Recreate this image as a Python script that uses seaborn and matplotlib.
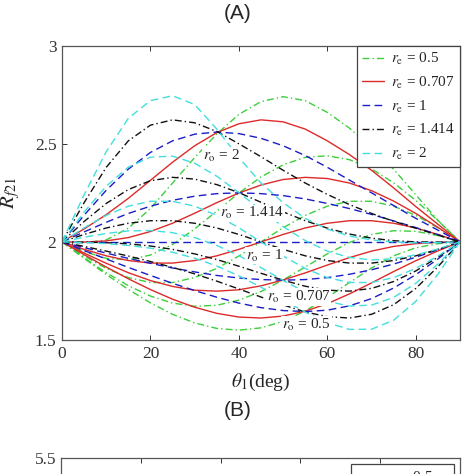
import matplotlib
matplotlib.use("Agg")
import matplotlib.pyplot as plt
from matplotlib.lines import Line2D
import pandas as pd
import seaborn as sns

# ----------------------------
# Data
# ----------------------------

theta = [0, 5, 10, 15, 20, 25, 30, 35, 40, 45, 50, 55, 60, 65, 70, 75, 80, 85, 90]

# r_o = 2
ro2_re05 = [2.00, 1.995, 2.01, 2.07, 2.17, 2.30, 2.43, 2.55, 2.65, 2.715, 2.74, 2.72, 2.66, 2.58, 2.48, 2.37, 2.24, 2.11, 2.00]
ro2_re0707 = [2.00, 2.066, 2.139, 2.222, 2.314, 2.406, 2.49, 2.557, 2.602, 2.622, 2.612, 2.575, 2.515, 2.445, 2.365, 2.275, 2.18, 2.09, 2.00]
ro2_re1 = [2.00, 2.136, 2.263, 2.371, 2.456, 2.515, 2.549, 2.56, 2.552, 2.528, 2.49, 2.44, 2.38, 2.315, 2.25, 2.185, 2.12, 2.06, 2.00]
ro2_re1414 = [2.00, 2.20, 2.38, 2.515, 2.595, 2.622, 2.607, 2.563, 2.50, 2.434, 2.365, 2.30, 2.242, 2.19, 2.145, 2.105, 2.07, 2.035, 2.00]
ro2_re2 = [2.00, 2.24, 2.46, 2.63, 2.72, 2.745, 2.70, 2.575, 2.43, 2.30, 2.20, 2.12, 2.065, 2.03, 2.01, 2.00, 1.995, 1.997, 2.00]

# r_o = 1.414
ro1414_re05 = [2.00, 1.951, 1.916, 1.909, 1.933, 1.987, 2.066, 2.157, 2.249, 2.331, 2.393, 2.431, 2.439, 2.419, 2.372, 2.301, 2.211, 2.109, 2.00]
ro1414_re0707 = [2.00, 1.999, 2.005, 2.022, 2.053, 2.095, 2.146, 2.200, 2.249, 2.290, 2.318, 2.329, 2.323, 2.300, 2.261, 2.208, 2.145, 2.074, 2.00]
ro1414_re1 = [2.00, 2.051, 2.100, 2.145, 2.182, 2.212, 2.233, 2.246, 2.250, 2.246, 2.236, 2.219, 2.196, 2.170, 2.140, 2.107, 2.073, 2.037, 2.00]
ro1414_re1414 = [2.00, 2.104, 2.196, 2.267, 2.312, 2.329, 2.320, 2.292, 2.251, 2.202, 2.153, 2.108, 2.070, 2.040, 2.019, 2.006, 2.000, 1.999, 2.00]
ro1414_re2 = [2.00, 2.152, 2.284, 2.381, 2.432, 2.437, 2.401, 2.335, 2.251, 2.162, 2.078, 2.007, 1.953, 1.921, 1.908, 1.914, 1.934, 1.964, 2.00]

# r_o = 1
ro1_re05 = [2.00, 1.928, 1.865, 1.818, 1.793, 1.793, 1.818, 1.865, 1.928, 2.00, 2.072, 2.135, 2.182, 2.207, 2.207, 2.182, 2.135, 2.072, 2.00]
ro1_re0707 = [2.00, 1.962, 1.929, 1.905, 1.892, 1.892, 1.905, 1.929, 1.962, 2.00, 2.038, 2.071, 2.095, 2.108, 2.108, 2.095, 2.071, 2.038, 2.00]
ro1_re1 = [2.00, 2.00, 2.00, 2.00, 2.00, 2.00, 2.00, 2.00, 2.00, 2.00, 2.00, 2.00, 2.00, 2.00, 2.00, 2.00, 2.00, 2.00, 2.00]
ro1_re1414 = [2.00, 2.038, 2.071, 2.095, 2.108, 2.108, 2.095, 2.071, 2.038, 2.00, 1.962, 1.929, 1.905, 1.892, 1.892, 1.905, 1.929, 1.962, 2.00]
ro1_re2 = [2.00, 2.072, 2.135, 2.182, 2.207, 2.207, 2.182, 2.135, 2.072, 2.00, 1.928, 1.865, 1.818, 1.793, 1.793, 1.818, 1.865, 1.928, 2.00]

# r_o = 0.707
ro0707_re05 = [2.00, 1.919, 1.843, 1.777, 1.724, 1.688, 1.672, 1.677, 1.703, 1.747, 1.806, 1.872, 1.939, 1.997, 2.038, 2.057, 2.054, 2.032, 2.00]
ro0707_re0707 = [2.00, 1.943, 1.891, 1.843, 1.803, 1.773, 1.754, 1.749, 1.756, 1.776, 1.806, 1.842, 1.882, 1.920, 1.953, 1.977, 1.991, 1.998, 2.00]
ro0707_re1 = [2.00, 1.971, 1.943, 1.916, 1.891, 1.867, 1.847, 1.829, 1.816, 1.808, 1.805, 1.808, 1.818, 1.835, 1.858, 1.887, 1.922, 1.960, 2.00]
ro0707_re1414 = [2.00, 1.999, 1.996, 1.990, 1.979, 1.962, 1.939, 1.910, 1.876, 1.840, 1.805, 1.774, 1.754, 1.749, 1.763, 1.798, 1.852, 1.922, 2.00]
ro0707_re2 = [2.00, 2.024, 2.043, 2.056, 2.058, 2.047, 2.022, 1.982, 1.930, 1.869, 1.804, 1.744, 1.697, 1.673, 1.678, 1.717, 1.789, 1.887, 2.00]

# r_o = 0.5
ro05_re05 = [2.00, 1.916, 1.834, 1.758, 1.689, 1.631, 1.587, 1.559, 1.550, 1.562, 1.595, 1.648, 1.717, 1.793, 1.867, 1.929, 1.970, 1.991, 2.00]
ro05_re0707 = [2.00, 1.935, 1.872, 1.812, 1.757, 1.708, 1.667, 1.636, 1.617, 1.612, 1.622, 1.647, 1.685, 1.735, 1.791, 1.849, 1.904, 1.954, 2.00]
ro05_re1 = [2.00, 1.956, 1.913, 1.870, 1.829, 1.789, 1.752, 1.718, 1.688, 1.665, 1.650, 1.645, 1.652, 1.674, 1.711, 1.765, 1.833, 1.913, 2.00]
ro05_re1414 = [2.00, 1.977, 1.953, 1.928, 1.900, 1.870, 1.837, 1.800, 1.760, 1.719, 1.679, 1.643, 1.619, 1.612, 1.631, 1.680, 1.763, 1.873, 2.00]
ro05_re2 = [2.00, 1.997, 1.991, 1.982, 1.968, 1.947, 1.917, 1.877, 1.827, 1.769, 1.705, 1.642, 1.588, 1.554, 1.555, 1.601, 1.697, 1.835, 2.00]

re_levels = ["0.5", "0.707", "1", "1.414", "2"]
ro_labels = ["2", "1.414", "1", "0.707", "0.5"]
ro_label_pos = [(36, 2.44), (43, 2.145), (45.8, 1.93), (53.5, 1.72), (55.3, 1.575)]

# ----------------------------
# Long table for seaborn
# ----------------------------

curves = {
    ("2", "0.5"): ro2_re05, ("2", "0.707"): ro2_re0707, ("2", "1"): ro2_re1,
    ("2", "1.414"): ro2_re1414, ("2", "2"): ro2_re2,
    ("1.414", "0.5"): ro1414_re05, ("1.414", "0.707"): ro1414_re0707, ("1.414", "1"): ro1414_re1,
    ("1.414", "1.414"): ro1414_re1414, ("1.414", "2"): ro1414_re2,
    ("1", "0.5"): ro1_re05, ("1", "0.707"): ro1_re0707, ("1", "1"): ro1_re1,
    ("1", "1.414"): ro1_re1414, ("1", "2"): ro1_re2,
    ("0.707", "0.5"): ro0707_re05, ("0.707", "0.707"): ro0707_re0707, ("0.707", "1"): ro0707_re1,
    ("0.707", "1.414"): ro0707_re1414, ("0.707", "2"): ro0707_re2,
    ("0.5", "0.5"): ro05_re05, ("0.5", "0.707"): ro05_re0707, ("0.5", "1"): ro05_re1,
    ("0.5", "1.414"): ro05_re1414, ("0.5", "2"): ro05_re2,
}

rows = []
for (ro, re), vals in curves.items():
    for t, r in zip(theta, vals):
        rows.append({"theta": t, "R": r, "ro": ro, "re": re})
df = pd.DataFrame(rows)

colors = {"0.5": "#3ccf3c", "0.707": "#dd2a2a", "1": "#1c1cc8", "1.414": "#111111", "2": "#44dede"}
dashes = {"0.5": (5, 2.2, 1, 2.2), "0.707": "", "1": (5.5, 3.2), "1.414": (5, 2.2, 1, 2.2), "2": (5.5, 3.2)}

sns.set_style("ticks")
plt.rcParams["font.family"] = ["Liberation Serif", "DejaVu Serif"]
plt.rcParams["mathtext.fontset"] = "stix"

fig = plt.figure(figsize=(4.74, 4.74), dpi=100)

# ----------------------------
# Panel (A)
# ----------------------------

ax = fig.add_axes([0.1308, 0.2827, 0.8397, 0.6209])
sns.lineplot(data=df, x="theta", y="R", hue="re", style="re", units="ro",
             estimator=None, sort=False, palette=colors, dashes=dashes,
             hue_order=re_levels, style_order=re_levels,
             linewidth=1.0, legend=False, ax=ax)

ax.set_xlim(0, 90)
ax.set_ylim(1.5, 3)
ax.set_xticks([0, 20, 40, 60, 80])
ax.set_yticks([1.5, 2, 2.5, 3])
ax.set_yticklabels(["1.5", "2", "2.5", "3"])
ax.tick_params(direction="in", top=True, right=True, length=3.5, width=0.7,
               labelsize=12.5, colors="#333333", pad=4)
for s in ax.spines.values():
    s.set_color("#555555")
    s.set_linewidth(0.9)

ax.set_xlabel(r"$\theta_1$(deg)", fontsize=14)
ax.set_ylabel(r"$R_{\mathit{f21}}$", fontsize=15)
ax.xaxis.set_label_coords(0.5, -0.11)
ax.yaxis.set_label_coords(-0.1, 0.5)

for lab, (x, y) in zip(ro_labels, ro_label_pos):
    ax.text(x, y, r"$r_{\mathrm{o}}$ = " + lab, ha="center", va="center", fontsize=11,
            bbox=dict(facecolor="white", edgecolor="none", pad=0.6))

handles = []
for re in re_levels:
    if dashes[re] == "":
        h = Line2D([], [], color=colors[re], lw=1.0, linestyle="-")
    else:
        h = Line2D([], [], color=colors[re], lw=1.0, dashes=dashes[re])
    handles.append(h)
labels = [r"$r_{\mathrm{e}}$ = " + re for re in re_levels]

leg_kw = dict(loc="upper right", fontsize=11, handlelength=1.45, handletextpad=0.45,
              labelspacing=0.5, borderpad=0.35, fancybox=False, framealpha=1)

leg = ax.legend(handles, labels, borderaxespad=0, **leg_kw)
leg.get_frame().set_edgecolor("#444444")
leg.get_frame().set_linewidth(0.9)

# ----------------------------
# Panel (B), only its top edge is in view
# ----------------------------

ax2 = fig.add_axes([0.1287, 0.0338 - 0.6209, 0.8418, 0.6209])
ax2.set_xlim(0, 100)
ax2.set_ylim(1.5, 5.5)
ax2.set_xticks([0, 20, 40, 60, 80, 100])
ax2.set_yticks([5.5])
ax2.set_yticklabels(["5.5"])
ax2.tick_params(direction="in", top=True, right=True, length=3.5, width=0.7,
                labelsize=12.5, colors="#333333", labelbottom=False)
for s in ax2.spines.values():
    s.set_color("#555555")
    s.set_linewidth(0.9)
# only the top of the (B) legend reaches into the picture
leg2 = ax2.legend(handles[:2], labels[:2], borderaxespad=0.4, **leg_kw)
leg2.get_frame().set_edgecolor("#444444")
leg2.get_frame().set_linewidth(0.9)

fig.text(0.502, 0.972, "(A)", ha="center", va="center", fontsize=15, family="Liberation Sans")
fig.text(0.502, 0.135, "(B)", ha="center", va="center", fontsize=15, family="Liberation Sans")

fig.savefig("out.png", dpi=100)
plt.close(fig)
